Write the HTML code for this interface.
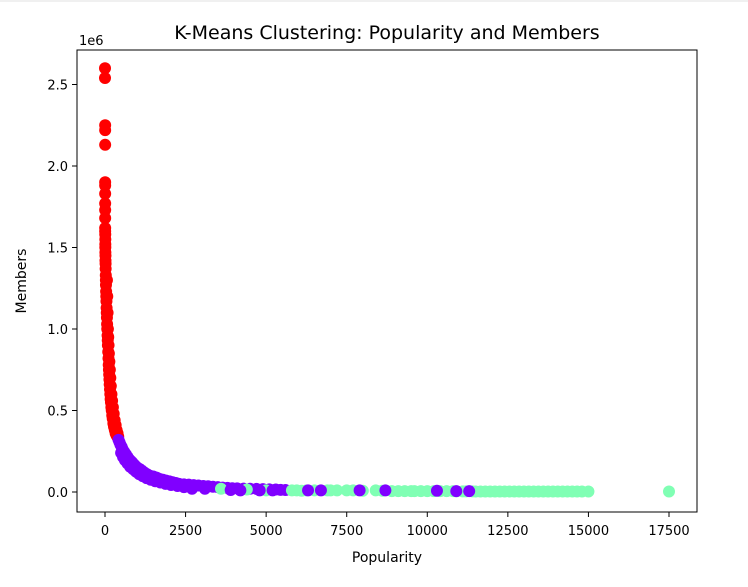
<!DOCTYPE html>
<html><head><meta charset="utf-8"><style>
body{margin:0;background:#fff;}
svg{display:block;font-family:"DejaVu Sans","Liberation Sans",sans-serif;}
</style></head><body>
<svg id="chart" width="748" height="587" viewBox="0 0 748 587">
<rect x="0" y="0" width="748" height="587" fill="#fff"/>
<line x1="0" y1="1" x2="748" y2="1" stroke="#e0e0e0"/>
<text x="387" y="39" font-size="19" text-anchor="middle" fill="#000">K-Means Clustering: Popularity and Members</text>
<g id="marks"></g>
<rect x="77" y="50" width="620" height="462" fill="none" stroke="#000" stroke-width="1"/>
<g id="xticks"></g>
<g id="yticks"></g>
<text x="387" y="562" font-size="14" text-anchor="middle" fill="#000">Popularity</text>
<text transform="translate(26,281) rotate(-90)" font-size="14" text-anchor="middle" fill="#000">Members</text>
<text x="79" y="45" font-size="13" fill="#000">1e6</text>
</svg>
<script>
const xTicks=[0,2500,5000,7500,10000,12500,15000,17500];
const yTicks=[0,0.5,1.0,1.5,2.0,2.5];
const yTickLabels=["0.0","0.5","1.0","1.5","2.0","2.5"];
const redPop=[0,0,5,5,5,5,5,5,5,5,5,5,5,8,10,10,10,12,15,15,18,20,25,28,30,35,40,45,50,55,60,65,70,80,85,90,100,108,115,122,130,138,145,155,165,175,185,198,210,225,240,260,280,305,330,355,380];
const redMem=[2.6,2.54,2.25,2.22,2.13,1.9,1.88,1.83,1.77,1.73,1.68,1.62,1.6,1.58,1.55,1.52,1.5,1.47,1.45,1.42,1.4,1.37,1.33,1.3,1.27,1.23,1.2,1.17,1.13,1.1,1.07,1.03,1.0,0.96,0.93,0.9,0.86,0.82,0.78,0.75,0.72,0.69,0.66,0.63,0.6,0.57,0.55,0.52,0.5,0.47,0.45,0.42,0.4,0.38,0.36,0.35,0.34];
const redBandPop=[60,70,80,90,100,110,120,135,150,165,180,200,220,245,270,300,330,360,390,410];
const redBandMem=[1.3,1.2,1.1,1.0,0.95,0.9,0.85,0.8,0.75,0.7,0.65,0.6,0.56,0.52,0.48,0.44,0.41,0.38,0.36,0.34];
const purpleCurvePop=[420,450,480,520,550,600,650,700,750,800,850,920,1000,1080,1150,1220,1300,1400,1500,1600,1700,1800,1900,2000,2100,2200,2300,2450,2600,2750,2900,3050,3200,3350,3500,3650,3800,3950,4100,4300,4500,4700,4900,5100,5300,5450,5600];
const purpleCurveMem=[0.32,0.305,0.29,0.275,0.26,0.245,0.23,0.215,0.2,0.19,0.18,0.165,0.15,0.14,0.13,0.12,0.11,0.1,0.095,0.088,0.08,0.075,0.07,0.065,0.06,0.055,0.05,0.047,0.045,0.042,0.04,0.037,0.035,0.032,0.03,0.027,0.025,0.023,0.022,0.021,0.02,0.019,0.018,0.016,0.015,0.013,0.012];
const purpleBandPop=[500,560,620,700,780,870,960,1060,1170,1290,1420,1560,1720,1880,2050,2250,2450,2700];
const purpleBandMem=[0.24,0.215,0.195,0.175,0.155,0.14,0.125,0.11,0.097,0.085,0.075,0.066,0.058,0.05,0.043,0.037,0.03,0.025];
const greenPop=[3600,4400,5000,5800,5950,6100,6250,6500,6900,7000,7200,7500,7700,8000,8400,8600,8900,9100,9300,9500,9600,9800,10000,10200,10400,10600,10800,10900,11100,11200,11400,11500,11650,11800,11950,12100,12250,12400,12550,12700,12850,13000,13150,13300,13450,13600,13750,13900,14050,14200,14350,14500,14650,14800,15000,17500];
const greenMem=[0.02,0.015,0.01,0.01,0.01,0.008,0.01,0.01,0.01,0.01,0.01,0.01,0.01,0.008,0.01,0.008,0.005,0.005,0.005,0.005,0.005,0.005,0.005,0.005,0.005,0.005,0.005,0.004,0.004,0.004,0.004,0.003,0.003,0.003,0.003,0.003,0.003,0.003,0.003,0.003,0.003,0.003,0.003,0.003,0.003,0.003,0.003,0.003,0.003,0.003,0.003,0.003,0.003,0.003,0.003,0.003];
const purpleDotPop=[2700,3100,3900,4200,4800,5200,6300,6700,7900,8700,10300,10900,11300];
const purpleDotMem=[0.02,0.02,0.012,0.01,0.01,0.01,0.01,0.01,0.01,0.01,0.008,0.005,0.005];

const NS="http://www.w3.org/2000/svg";
function xs(v){return 105+v*(564/17500);}
function ys(v){return 492-v*163;}
const marks=document.getElementById('marks');
function drawSeries(px,py,color,name){
  for(let i=0;i<px.length;i++){
    const c=document.createElementNS(NS,'circle');
    c.setAttribute('cx',xs(px[i]));c.setAttribute('cy',ys(py[i]));
    c.setAttribute('r',6);c.setAttribute('fill',color);
    
    
    marks.appendChild(c);
  }
}
drawSeries(redPop,redMem,'#ff0000','point-cluster-red');
drawSeries(redBandPop,redBandMem,'#ff0000','point-cluster-red');
drawSeries(purpleCurvePop,purpleCurveMem,'#8000ff','point-cluster-purple');
drawSeries(purpleBandPop,purpleBandMem,'#8000ff','point-cluster-purple');
drawSeries(greenPop,greenMem,'#80ffb4','point-cluster-green');
drawSeries(purpleDotPop,purpleDotMem,'#8000ff','point-cluster-purple');

const xg=document.getElementById('xticks');
xTicks.forEach(v=>{
  const l=document.createElementNS(NS,'line');
  l.setAttribute('x1',xs(v));l.setAttribute('x2',xs(v));l.setAttribute('y1',512);l.setAttribute('y2',517);l.setAttribute('stroke','#000');
  
  
  xg.appendChild(l);
  const t=document.createElementNS(NS,'text');
  t.setAttribute('x',xs(v));t.setAttribute('y',535);t.setAttribute('font-size','13');t.setAttribute('text-anchor','middle');
  t.textContent=String(v);
  
  
  xg.appendChild(t);
});
const yg=document.getElementById('yticks');
yTicks.forEach((v,i)=>{
  const l=document.createElementNS(NS,'line');
  l.setAttribute('x1',72);l.setAttribute('x2',77);l.setAttribute('y1',ys(v));l.setAttribute('y2',ys(v));l.setAttribute('stroke','#000');
  
  
  yg.appendChild(l);
  const t=document.createElementNS(NS,'text');
  t.setAttribute('x',68);t.setAttribute('y',ys(v)+5);t.setAttribute('font-size','13');t.setAttribute('text-anchor','end');
  t.textContent=yTickLabels[i];
  
  
  yg.appendChild(t);
});
</script>
</body></html>
